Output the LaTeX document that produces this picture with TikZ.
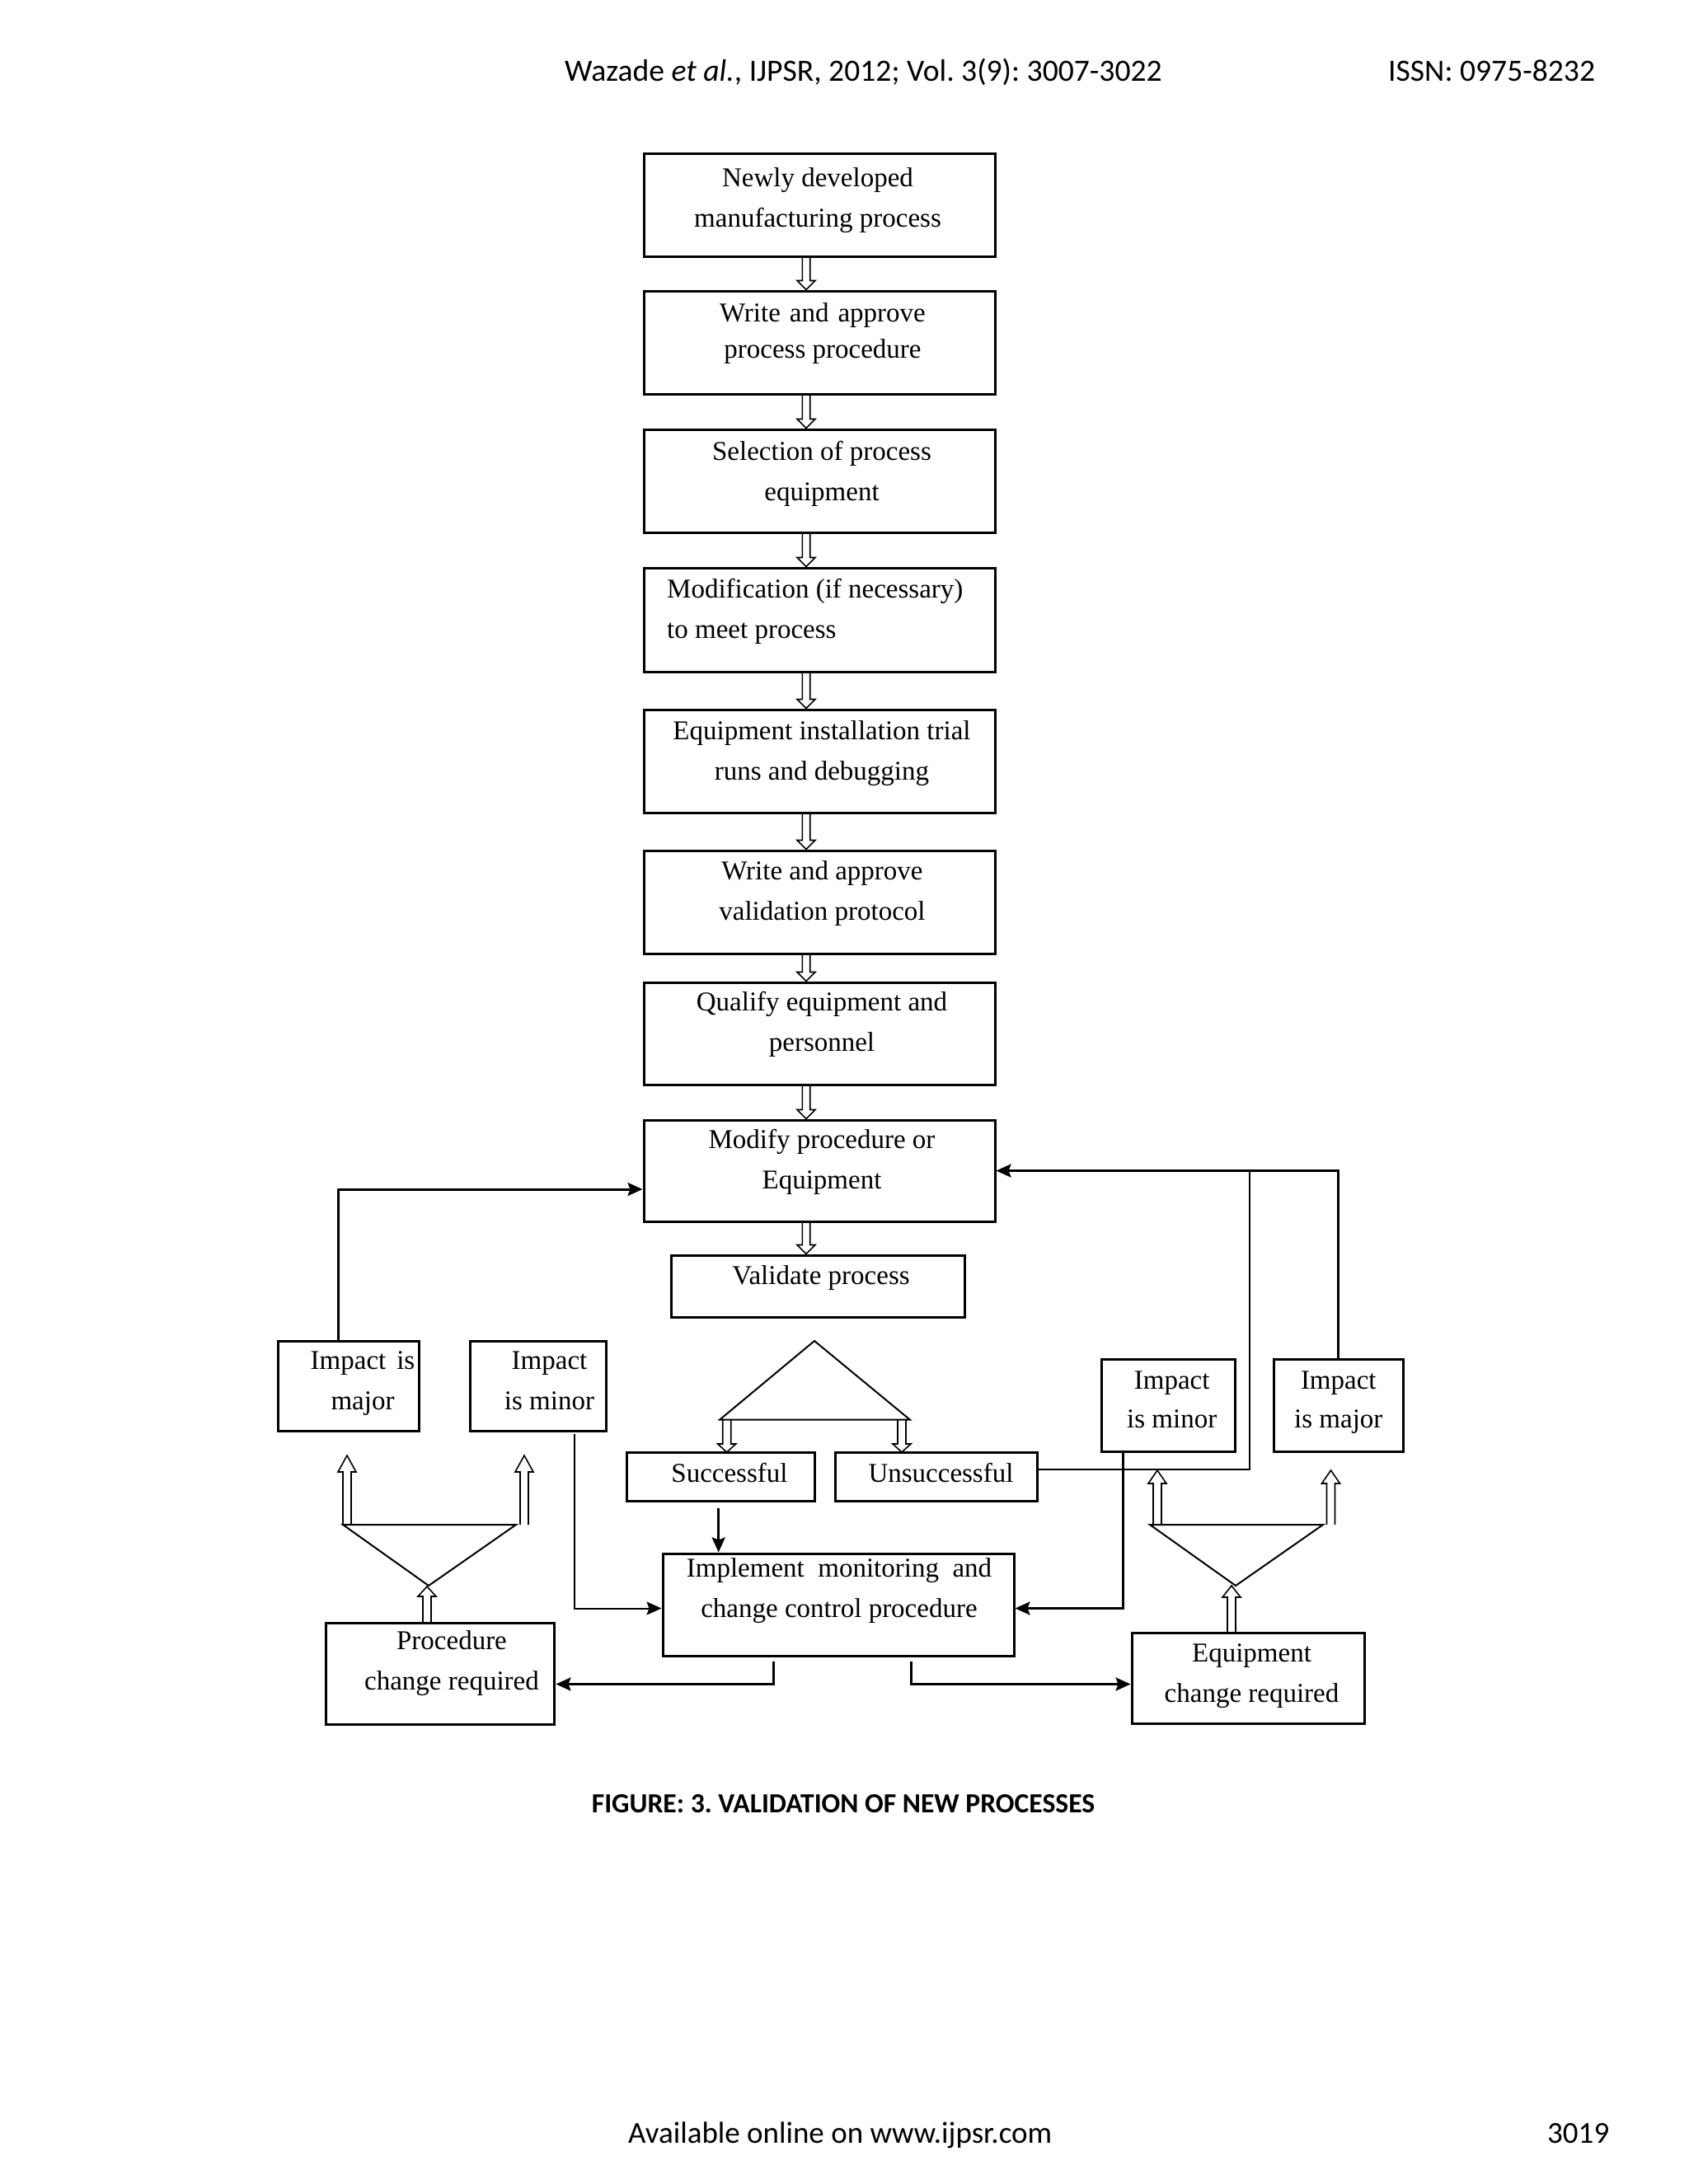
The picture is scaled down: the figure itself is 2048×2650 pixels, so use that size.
\documentclass[tikz,border=0pt]{standalone}
\usepackage{fontspec}
\setmainfont{Liberation Serif}
\newfontfamily\calib{Carlito}
\usetikzlibrary{arrows.meta,calc}
\frenchspacing
\newcommand\bt[3][0pt]{\begin{tabular}[t]{@{}c@{}}#2\\[#1]#3\end{tabular}}
\newcommand\btl[2]{\begin{tabular}[t]{@{}l@{}}#1\\#2\end{tabular}}
% open (outlined) arrow between two stacked boxes
\newcommand\oachain[3]{%
  \draw[oarr] let \p1=($(#2.south)+(#1,0)$), \p2=($(#3.north)+(#1,0)$) in
  (\x1-4.7pt,\y1) -- (\x1-4.7pt,\y2+11pt) -- (\x1-11pt,\y2+11pt) -- (\x1,\y2)
  -- (\x1+11pt,\y2+11pt) -- (\x1+4.7pt,\y2+11pt) -- (\x1+4.7pt,\y1);}
\newcommand\oaup[4]{%
  \draw[oarr] (#1-5,#2) -- (#1-5,#3+#4) -- (#1-11,#3+#4) -- (#1,#3)
  -- (#1+11,#3+#4) -- (#1+5,#3+#4) -- (#1+5,#2);}
\newcommand\oadn[4]{%
  \draw[oarr] (#1-5,#2) -- (#1-5,#3-#4) -- (#1-11,#3-#4) -- (#1,#3)
  -- (#1+11,#3-#4) -- (#1+5,#3-#4) -- (#1+5,#2);}
\begin{document}
\begin{tikzpicture}[x=1pt,y=-1pt,
  bx/.style={draw, line width=3pt, inner sep=0pt, rectangle},
  tx/.style={inner sep=0pt, anchor=base, font=\fontsize{33}{49}\selectfont},
  tip/.style={-{Stealth[length=18pt,width=16pt,inset=3pt]}},
  conn/.style={line width=3pt, tip},
  thinconn/.style={line width=2pt, tip},
  oarr/.style={line width=1.6pt, line join=miter},
  tri/.style={line width=2pt, line join=miter},
  hdr/.style={inner sep=0pt, anchor=base west, font=\calib\fontsize{37.6}{44}\selectfont}]
\fill[white] (0,0) rectangle (2048,2650);
\useasboundingbox (0,0) rectangle (2048,2650);

% header / footer
\node[hdr] (head) at (685,98) {Wazade \textit{et al.}, IJPSR, 2012; Vol. 3(9): 3007-3022};
\node[hdr] (issn) at (1684,98) {ISSN: 0975-8232};
\node[inner sep=0pt, anchor=base, font=\calib\bfseries\fontsize{33.6}{40}\selectfont] (cap) at (1023,2199) {FIGURE: 3. VALIDATION OF NEW PROCESSES};
\node[hdr, font=\calib\fontsize{37}{42}\selectfont] (foot) at (762,2600) {Available online on www.ijpsr.com};
\node[hdr, font=\calib\fontsize{37}{42}\selectfont] (page) at (1877,2600) {3019};

% main column boxes
\node[bx, minimum width=426pt, minimum height=125pt] (b1) at (994,248.5) {};
\node[bx, minimum width=426pt, minimum height=125pt] (b2) at (994,415.5) {};
\node[bx, minimum width=426pt, minimum height=125pt] (b3) at (994,583.5) {};
\node[bx, minimum width=426pt, minimum height=126pt] (b4) at (994,752) {};
\node[bx, minimum width=426pt, minimum height=125pt] (b5) at (994,923.5) {};
\node[bx, minimum width=426pt, minimum height=125pt] (b6) at (994,1094.5) {};
\node[bx, minimum width=426pt, minimum height=124pt] (b7) at (994,1254) {};
\node[bx, minimum width=426pt, minimum height=123pt] (b8) at (994,1420.5) {};
\node[bx, minimum width=356pt, minimum height=75pt] (val) at (992,1560.5) {};

\node[tx] (t1) at (992,226.7) {\bt{Newly developed}{manufacturing process}};
\node[tx] (t2) at (998,390.7) {\bt[-5pt]{Write\hspace{11pt}and\hspace{11pt}approve}{process procedure}};
\node[tx] (t3) at (997,558.3) {\bt{Selection of process}{equipment}};
\node[tx, anchor=base west] (t4) at (809,725.7) {\btl{Modification (if necessary)}{to meet process}};
\node[tx] (t5) at (997,897.3) {\bt{Equipment installation trial}{runs and debugging}};
\node[tx] (t6) at (997.5,1067.3) {\bt{Write and approve}{validation protocol}};
\node[tx] (t7) at (997,1226.7) {\bt{Qualify equipment and}{personnel}};
\node[tx] (t8) at (997,1393) {\bt{Modify procedure or}{Equipment}};
\node[tx] (tval) at (996,1558.3) {Validate process};

% chain arrows
\oachain{-16}{b1}{b2}
\oachain{-16}{b2}{b3}
\oachain{-16}{b3}{b4}
\oachain{-16}{b4}{b5}
\oachain{-16}{b5}{b6}
\oachain{-16}{b6}{b7}
\oachain{-16}{b7}{b8}
\oachain{-16}{b8}{val}

% outcome boxes
\node[bx, minimum width=228pt, minimum height=59pt] (succ) at (874.7,1791.5) {};
\node[bx, minimum width=245pt, minimum height=59pt] (uns) at (1135.8,1791.5) {};
\node[tx] (tsucc) at (885,1798.3) {Successful};
\node[tx] (tuns) at (1141.5,1798.3) {Unsuccessful};

\draw[tri] (988,1627) -- (873,1722.7) -- (1104,1722.7) -- cycle;
\oadn{881.7}{1722.7}{1762}{10}
\oadn{1094}{1722.7}{1762}{10}

% implement box
\node[bx, minimum width=426pt, minimum height=124pt] (impl) at (1017,1947) {};
\node[tx] (timpl) at (1018,1913.3) {\bt{Implement\hspace{16.5pt}monitoring\hspace{16.5pt}and}{change control procedure}};

% left group
\node[bx, minimum width=171pt, minimum height=109pt] (imjL) at (422.8,1681.5) {};
\node[bx, minimum width=165pt, minimum height=109pt] (iminL) at (653.4,1681.5) {};
\node[bx, minimum width=277pt, minimum height=123pt] (proc) at (534.4,2030.5) {};
\node[tx] (timjL) at (440,1661.7) {\bt{Impact\hspace{13pt}is}{major}};
\node[tx] (timinL) at (666.5,1661.7) {\bt{Impact}{is minor}};
\node[tx] (tproc) at (548,2001.5) {\bt{Procedure}{change required}};

\draw[tri] (416,1850) -- (626,1850) -- (520,1924) -- cycle;
\oaup{421}{1850}{1766}{20}
\oaup{636}{1850}{1766}{20}
\oaup{518}{1969}{1925}{12}

% right group
\node[bx, minimum width=162pt, minimum height=111.5pt] (iminR) at (1417.7,1705.3) {};
\node[bx, minimum width=157.7pt, minimum height=111.5pt] (imjR) at (1623.9,1705.3) {};
\node[bx, minimum width=282.7pt, minimum height=110pt] (eqc) at (1514.4,2036) {};
\node[tx] (timinR) at (1421.7,1685.3) {\bt[-1.5pt]{Impact}{is minor}};
\node[tx] (timjR) at (1623.8,1685.3) {\bt[-1.5pt]{Impact}{is major}};
\node[tx] (teqc) at (1518.5,2016) {\bt{Equipment}{change required}};

\draw[tri] (1395,1850) -- (1605,1850) -- (1499,1924) -- cycle;
\oaup{1404}{1850}{1784}{16}
\oaup{1614.5}{1850}{1784}{16}
\oaup{1494}{1981}{1924}{14}

% connectors
\coordinate (jR) at (1516,1420.5);
\coordinate (sa) at ($(succ.south)+(-3,7)$);
\draw[conn] ($(imjL.north)+(-12,0)$) |- ($(b8.west)+(0,22.5)$);
\draw[conn] (imjR.north) |- (b8.east);
\draw[line width=2.6pt] ($(uns.east)+(0,-8.5)$) -| (jR);
\draw[thinconn] ($(iminL.south)+(43.5,2)$) |- ($(impl.west)+(0,4.5)$);
\draw[conn] ($(iminR.south)+(-55.5,0)$) |- ($(impl.east)+(0,4.5)$);
\draw[conn] (sa) -- (sa |- impl.north);
\draw[conn] ($(impl.south)+(-79,5)$) |- ($(proc.east)+(0,13)$);
\draw[conn] ($(impl.south)+(88,5)$) |- ($(eqc.west)+(0,7.5)$);
\end{tikzpicture}
\end{document}
